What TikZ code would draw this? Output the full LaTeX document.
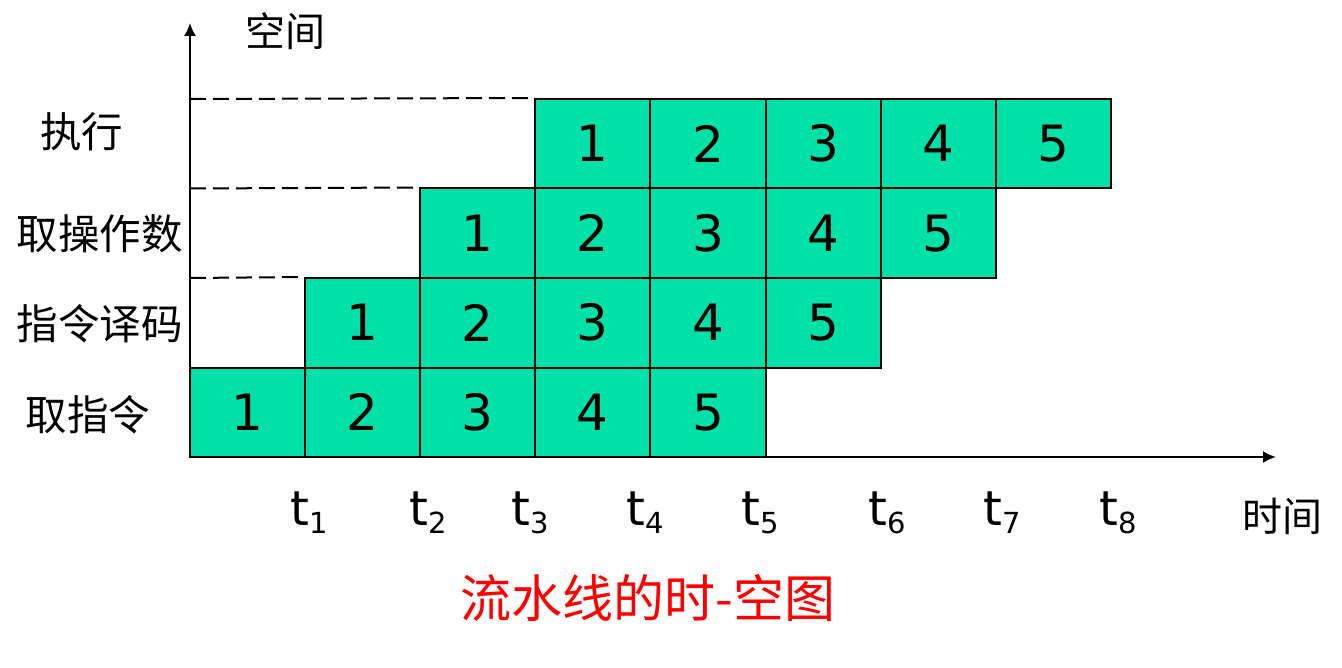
\documentclass[tikz,border=0pt]{standalone}
\usepackage{fontspec}
\setmainfont{DejaVu Sans}
\newfontfamily\cjk{Noto Sans CJK SC}
\usetikzlibrary{arrows.meta}
\definecolor{stagegreen}{RGB}{0,225,168}
\definecolor{captionred}{RGB}{255,0,0}
\tikzset{
  cell/.style={draw, fill=stagegreen, line width=2pt, minimum width=115.1pt,
    minimum height=89.5pt, inner sep=0pt, font=\fontsize{50}{50}\selectfont},
  axis/.style={line width=2pt, -{Latex[length=13pt,width=12pt]}},
  guide/.style={line width=2pt, dash pattern=on 16pt off 7pt},
  stagelabel/.style={font=\cjk\fontsize{41.5}{41.5}\selectfont, inner sep=0pt},
  axislabel/.style={font=\cjk\fontsize{40}{40}\selectfont, inner sep=0pt},
  ticklabel/.style={font=\fontsize{48}{48}\selectfont, anchor=base, inner sep=0pt}
}
\newcommand{\tsub}[1]{t\raisebox{-0.17em}{\fontsize{29}{29}\selectfont #1}}
\begin{document}
\begin{tikzpicture}[x=1pt, y=1pt]
			\def\cellw{115.1}
			\def\cellh{89.5}

			% Background
			\fill[white] (-190, -210) rectangle (1152, 457);
			\useasboundingbox (-190, -210) rectangle (1152, 457);

			% Stage cells
			\foreach \r in {0,...,3} {
					\foreach \k in {1,...,5} {
							\pgfmathtruncatemacro\c{\r+\k-1}
							\node[cell] (cell-\r-\c) at ({(\c+0.5)*\cellw}, {(\r+0.5)*\cellh}) {\k};
						}
				}

			% Axes
			\coordinate (origin) at (0, 0);
			\coordinate (ytip) at (0, 434);
			\coordinate (xtip) at (1086, 0);
			\draw[axis] (origin) -- (ytip);
			\draw[axis] (origin) -- (xtip);

			% Dashed guides
			\foreach \r in {1,...,3} {
					\coordinate (guide-\r) at (0, {(\r+1)*\cellh});
					\draw[guide] (guide-\r) -- (cell-\r-\r.north west);
				}

			% Stage labels
			\node[stagelabel] (exec) at (-108, 325) {执行};
			\node[stagelabel] (fetchop) at (-90, 223) {取操作数};
			\node[stagelabel] (decode) at (-90, 133) {指令译码};
			\node[stagelabel] (fetch) at (-102, 42) {取指令};

			% Axis labels
			\node[axislabel] (space) at (96, 426) {空间};
			\node[axislabel] (time) at (1092, -59) {时间};

			% Time labels
			\node[ticklabel] (t1) at (119, -68) {\tsub{1}};
			\node[ticklabel] (t2) at (238, -68) {\tsub{2}};
			\node[ticklabel] (t3) at (340, -68) {\tsub{3}};
			\node[ticklabel] (t4) at (455, -68) {\tsub{4}};
			\node[ticklabel] (t5) at (570, -68) {\tsub{5}};
			\node[ticklabel] (t6) at (697, -68) {\tsub{6}};
			\node[ticklabel] (t7) at (812, -68) {\tsub{7}};
			\node[ticklabel] (t8) at (928, -68) {\tsub{8}};

			% Caption
			\node[font=\cjk\fontsize{51}{51}\selectfont, text=captionred, inner sep=0pt] (caption) at (458, -141) {流水线的时-空图};

		\end{tikzpicture}
\end{document}
